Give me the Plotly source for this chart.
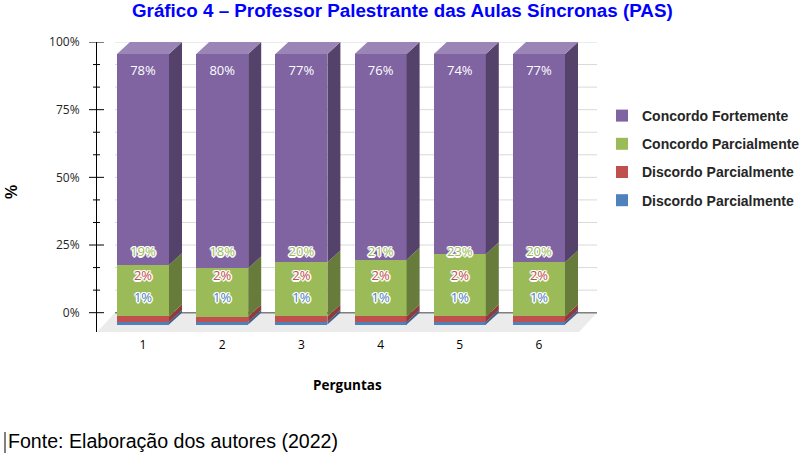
import plotly.graph_objects as go

# ---------------- data ----------------
categories = ["1", "2", "3", "4", "5", "6"]
concordo_fortemente = [78, 80, 77, 76, 74, 77]
concordo_parcialmente = [19, 18, 20, 21, 23, 20]
discordo_parcialmente_red = [2, 2, 2, 2, 2, 2]
discordo_parcialmente_blue = [1, 1, 1, 1, 1, 1]
y_tick_vals = [0, 25, 50, 75, 100]
y_tick_text = ["0%", "25%", "50%", "75%", "100%"]

series = [  # bottom -> top
    dict(name="Discordo Parcialmente", vals=discordo_parcialmente_blue,
         front="#4F81BD", side="#3A6190", label_y=5.1, rank=4),
    dict(name="Discordo Parcialmente", vals=discordo_parcialmente_red,
         front="#C0504D", side="#8E3B39", label_y=13.2, rank=3),
    dict(name="Concordo Parcialmente", vals=concordo_parcialmente,
         front="#9BBB59", side="#677C3B", label_y=22.0, rank=2),
    dict(name="Concordo Fortemente", vals=concordo_fortemente,
         front="#8064A2", side="#54426B", label_y=None, rank=1),
]
TOP_COLOR = "#9A85B6"

# ---------------- geometry (pixels -> axis units) ----------------
W, H = 801, 456
L, R, T, B = 97, 201, 42, 124
PW, PH = W - L - R, H - T - B
Y0PX = 312.7
YPX = (Y0PX - T) / 100.0
YMIN = -((H - B) - Y0PX) / YPX
XPX = 79.2
XMIN = 1 - (143 - L) / XPX
XMAX = XMIN + PW / XPX
BAR_W = 52 / XPX
DX = 13 / XPX
DY = 11.9 / YPX


def px(p):  # pixel x -> paper x
    return (p - L) / PW


def py(p):  # pixel y -> paper y
    return ((H - B) - p) / PH


xs = list(range(1, len(categories) + 1))
totals = [sum(s["vals"][i] for s in series) for i in range(len(xs))]

fig = go.Figure()

cum = [0.0] * len(xs)
for s in series:
    norm = [v / totals[i] * 100 for i, v in enumerate(s["vals"])]
    bottoms = cum[:]
    tops = [bottoms[i] + norm[i] for i in range(len(xs))]
    # front faces
    fig.add_trace(go.Bar(
        x=xs, y=norm, base=[b - DY for b in bottoms], width=BAR_W,
        marker=dict(color=s["front"], line=dict(width=0)),
        name=s["name"], legendrank=s["rank"], legendgroup="g%d" % s["rank"],
        hoverinfo="skip"))
    # side faces
    sx, sy = [], []
    for i, x in enumerate(xs):
        xr = x + BAR_W / 2
        sx += [xr, xr + DX, xr + DX, xr, xr, None]
        sy += [bottoms[i] - DY, bottoms[i], tops[i], tops[i] - DY, bottoms[i] - DY, None]
    fig.add_trace(go.Scatter(x=sx, y=sy, mode="lines", fill="toself",
                             fillcolor=s["side"], line=dict(width=0, color=s["side"]),
                             showlegend=False, hoverinfo="skip"))
    cum = tops

# top faces
tx, ty = [], []
for i, x in enumerate(xs):
    xl, xr = x - BAR_W / 2, x + BAR_W / 2
    top = cum[i]
    tx += [xl, xl + DX, xr + DX, xr, xl, None]
    ty += [top - DY, top, top, top - DY, top - DY, None]
fig.add_trace(go.Scatter(x=tx, y=ty, mode="lines", fill="toself",
                         fillcolor=TOP_COLOR, line=dict(width=0, color=TOP_COLOR),
                         showlegend=False, hoverinfo="skip"))

# data labels
outline = ("-1px -1px 0 #fff, 1px -1px 0 #fff, -1px 1px 0 #fff, 1px 1px 0 #fff, "
           "0 1.5px 0 #fff, 0 -1.5px 0 #fff, 1.5px 0 0 #fff, -1.5px 0 0 #fff")
for s in series:
    txt = ["%d%%" % v for v in s["vals"]]
    if s["label_y"] is None:
        ys = [c - DY - 6.5 for c in cum]
        font = dict(family="Open Sans", size=13, color="white")
    else:
        ys = [s["label_y"]] * len(xs)
        font = dict(family="Open Sans", size=13, color=s["front"], shadow=outline)
    fig.add_trace(go.Scatter(x=xs, y=ys, mode="text", text=txt, textfont=font,
                             textposition="middle center", showlegend=False,
                             hoverinfo="skip"))

shapes = []
# floor
shapes.append(dict(type="path", xref="paper", yref="y", layer="below",
                   path="M %f,%f L %f,%f L %f,%f L %f,%f Z" % (
                       px(97), YMIN, px(115), 0, px(597), 0, px(579), YMIN),
                   fillcolor="#EBEBEB", line=dict(width=0)))
# back-wall gridlines and axis ticks
for k in range(13):
    v = k * 100 / 12
    shapes.append(dict(type="line", xref="paper", yref="y", layer="below",
                       x0=px(115), x1=px(597), y0=v, y1=v,
                       line=dict(color="#7F7F7F" if k == 0 else "#D9D9D9",
                                 width=1.5 if k == 0 else 1)))
    major = (k % 3 == 0)
    shapes.append(dict(type="line", xref="paper", yref="y",
                       x0=px(89 if major else 93), x1=px(104 if major else 100),
                       y0=v, y1=v, line=dict(color="black", width=1)))
# text cursor mark at the footer
shapes.append(dict(type="line", xref="paper", yref="paper",
                   x0=px(5), x1=px(5), y0=py(432), y1=py(453),
                   line=dict(color="black", width=1)))

annotations = [
    dict(text="<b>Gráfico 4 – Professor Palestrante das Aulas Síncronas (PAS)</b>",
         xref="paper", yref="paper", x=px(402), y=py(10), xanchor="center",
         yanchor="middle", showarrow=False,
         font=dict(family="Liberation Sans", size=18.8, color="#0000FF")),
    dict(text="<b>Perguntas</b>", xref="paper", yref="paper", x=px(347), y=py(385),
         xanchor="center", yanchor="middle", showarrow=False,
         font=dict(family="Open Sans", size=13.5, color="black")),
    dict(text="<b>%</b>", xref="paper", yref="paper", x=px(12), y=py(192),
         xanchor="center", yanchor="middle", showarrow=False, textangle=-90,
         font=dict(family="Liberation Sans", size=16, color="black")),
    dict(text="Fonte: Elaboração dos autores (2022)", xref="paper", yref="paper",
         x=px(6), y=py(441), xanchor="left", yanchor="middle", showarrow=False,
         font=dict(family="Liberation Sans", size=19.6, color="black")),
]

fig.update_layout(
    width=W, height=H, margin=dict(l=L, r=R, t=T, b=B, pad=0, autoexpand=False),
    paper_bgcolor="white", plot_bgcolor="white",
    barmode="overlay", bargap=0,
    shapes=shapes, annotations=annotations,
    showlegend=True,
    legend=dict(x=px(602), y=py(100), xanchor="left", yanchor="top",
                font=dict(family="Liberation Sans", size=14, color="#262626",
                          weight="bold"),
                tracegroupgap=7, bgcolor="rgba(0,0,0,0)"),
    xaxis=dict(range=[XMIN, XMAX], tickvals=xs, ticktext=categories,
               showgrid=False, zeroline=False, showline=False, ticks="",
               tickfont=dict(family="Open Sans", size=12, color="black"),
               ticklabelstandoff=4, fixedrange=True),
    yaxis=dict(range=[YMIN, 100], tickvals=y_tick_vals, ticktext=y_tick_text,
               showgrid=False, zeroline=False, showline=True, linecolor="black",
               linewidth=1, ticks="", ticklabelstandoff=14,
               tickfont=dict(family="Open Sans", size=12, color="#262626"),
               fixedrange=True),
)

fig.write_html("out.html")
